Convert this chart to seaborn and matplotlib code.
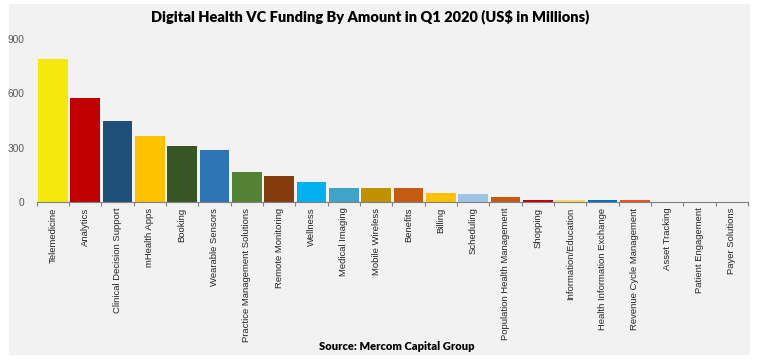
import matplotlib
matplotlib.use("Agg")
import matplotlib.pyplot as plt
import seaborn as sns
import pandas as pd
import numpy as np
from matplotlib.patches import Rectangle

categories = ["Telemedicine", "Analytics", "Clinical Decision Support", "mHealth Apps",
              "Booking", "Wearable Sensors", "Practice Management Solutions",
              "Remote Monitoring", "Wellness", "Medical Imaging", "Mobile Wireless",
              "Benefits", "Billing", "Scheduling", "Population Health Management",
              "Shopping", "Information/Education", "Health Information Exchange",
              "Revenue Cycle Management", "Asset Tracking", "Patient Engagement",
              "Payer Solutions"]
values = [788, 574, 447, 364, 309, 287, 166, 144, 110, 77, 77, 77, 50, 45, 28,
          12, 10, 12, 12, 0, 0, 0]
colors = ["#F5E80C", "#C00000", "#1F4E79", "#FFC000", "#375623", "#2E75B6",
          "#548235", "#843C0C", "#00B0F0", "#40A4C8", "#BF9000", "#C55A11",
          "#FFC000", "#9DC3E6", "#C55A11", "#C00000", "#FFD966", "#0070C0",
          "#F4511E", "#A5A5A5", "#A5A5A5", "#A5A5A5"]
yticks = [0, 300, 600, 900]
title = "Digital Health VC Funding By Amount in Q1 2020 (US$ in Millions)"
source = "Source: Mercom Capital Group"

df = pd.DataFrame({"cat": categories, "val": values})

sns.set_theme(style="white")
plt.rcParams["font.family"] = ["Liberation Sans", "DejaVu Sans"]

W, H = 760, 364
fig = plt.figure(figsize=(W / 100, H / 100), dpi=100, facecolor="white")
fig.patches.append(Rectangle((9 / W, 1 - 355 / H), (750 - 9) / W, (355 - 4) / H,
                             transform=fig.transFigure, facecolor="#F2F2F2",
                             edgecolor="none", zorder=-10))

ax = fig.add_axes([36.7 / W, 1 - 202 / H, (748 - 36.7) / W, (202 - 39) / H])
ax.set_facecolor("none")
ax.set_zorder(5)

sns.barplot(data=df, x="cat", y="val", hue="cat", palette=colors, legend=False,
            dodge=False, width=0.91, saturation=1, linewidth=0, ax=ax)

ax.set_xlim(-0.5, len(categories) - 0.5)
ax.set_ylim(0, 900)
ax.set_yticks(yticks)
ax.set_yticklabels([str(v) for v in yticks], fontsize=7.3, color="#595959")
ax.tick_params(axis="y", length=0, pad=9)
ax.set_xticks(range(len(categories)))
ax.set_xticklabels(categories, rotation=90, fontsize=6.8, color="#262626",
                   va="top", ha="center")
ax.tick_params(axis="x", which="major", length=0, pad=4)
ax.set_xticks(np.arange(-0.5, len(categories), 1), minor=True)
ax.tick_params(axis="x", which="minor", length=3, color="#808080", width=0.8,
               direction="out", bottom=True)
ax.set_xlabel("")
ax.set_ylabel("")
for s in ["top", "right", "left"]:
    ax.spines[s].set_visible(False)
ax.spines["bottom"].set_color("#808080")
ax.spines["bottom"].set_linewidth(0.8)

fig.text(370 / W, 1 - 17 / H, title, ha="center", va="center", fontsize=10.5,
         fontweight="heavy", family=["Lato", "DejaVu Sans"], color="#000000")
fig.text(397 / W, 1 - 346 / H, source, ha="center", va="center", fontsize=8,
         fontweight="heavy", family=["Lato", "DejaVu Sans"], color="#000000")

fig.savefig("out.png", dpi=100, facecolor="white")
